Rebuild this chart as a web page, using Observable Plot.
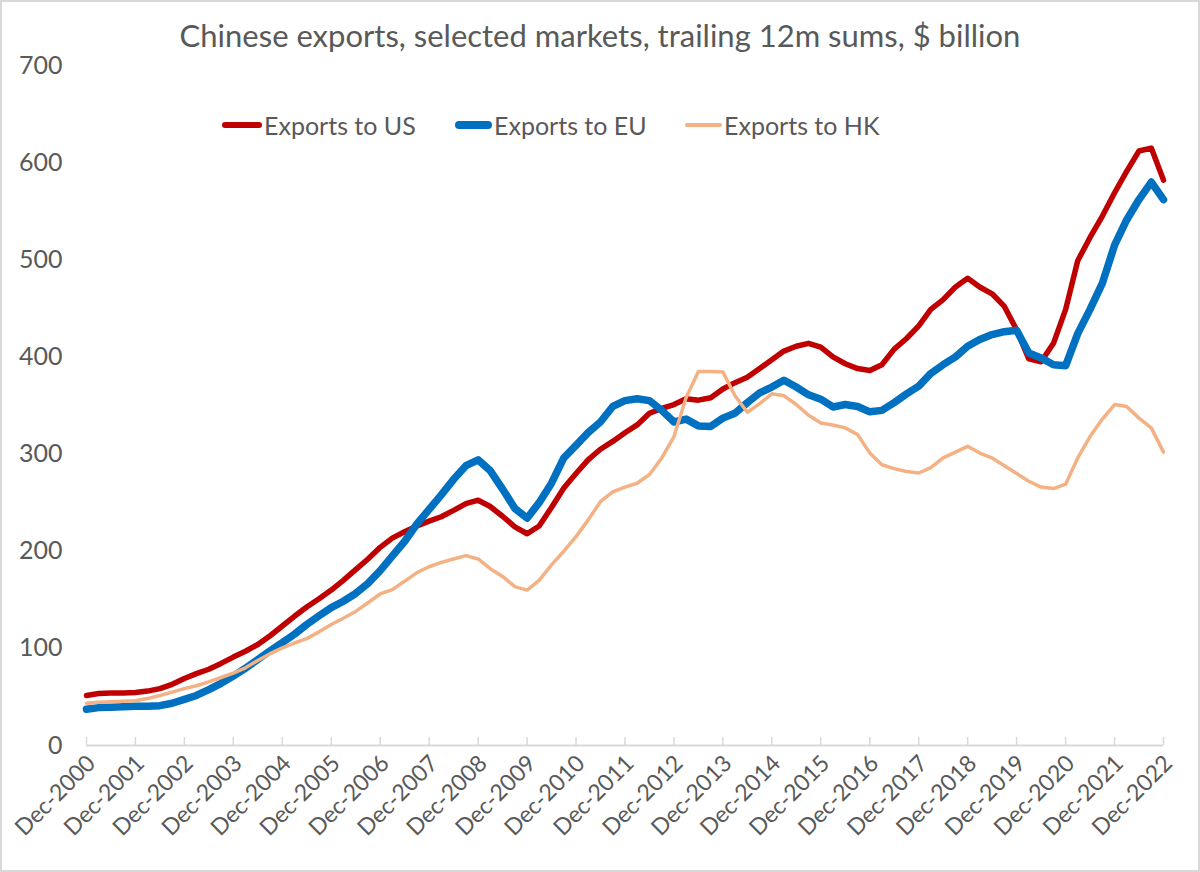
<!DOCTYPE html>
<html>
<head>
<meta charset="utf-8">
<script src="https://cdn.jsdelivr.net/npm/d3@7"></script>
<script src="https://cdn.jsdelivr.net/npm/@observablehq/plot@0.6"></script>
<style>
  html, body { margin: 0; padding: 0; background: #fff; }
  #chart { position: relative; width: 1200px; height: 872px; overflow: hidden;
           font-family: Lato, "Open Sans", sans-serif; color: #595959; }
  #chart svg { position: absolute; left: 0; top: 0; }
  #title { position: absolute; left: 0; top: 16px; width: 1200px; text-align: center;
           font-size: 31px; white-space: nowrap; }
  .item { position: absolute; top: 110px; height: 30px; font-size: 25px; line-height: 30px; white-space: nowrap; }
  .sw { position: absolute; top: 50%; border-radius: 4px; }
  #frame { position: absolute; left: 0; top: 0; width: 1200px; height: 872px; box-sizing: border-box;
           border: 2px solid #d9d9d9; pointer-events: none; }
</style>
</head>
<body>
<div id="chart">
  <div id="title">Chinese exports, selected markets, trailing 12m sums, $ billion</div>
  <div id="frame"></div>
</div>
<script>
// Trailing 12-month sums of Chinese exports, $ billion, quarterly readings Dec-2000 .. Dec-2022
const exportsUS = [51.5,53.5,54,54,54.5,56,58.5,63,69,74,
  78.5,84.5,91,97,104,113,123,133,142.5,151,
  160,170,181,192,204,213.5,220,226,231,235.5,
  242,249,252.5,246,236,225,218,226,245,265,
  280,294,305,313,322,330,342,347,351,357,
  355.5,358,367,373.5,379,388,397,406,411,414,
  410,400,393,388,386,392,408,419,432,449,
  459,472,481,472,465,452,428,398,395,414,
  449,499,523,545,569,591,612,615,582];

const exportsEU = [37.4,39,39.5,40,40.5,40.5,41,43.5,47.5,51.5,
  57.5,64,71.5,79.5,88.5,97.5,106,114.5,124.5,133.5,
  142,148.5,156.5,167,180,195,210,228,243,258,
  274,288,294,283,264,244,234,250,270,296,
  309,322,333,349,355,357,355,345,333,336,
  329,328.5,337,342,353,363,369,376,369,361,
  356.5,348.5,351,349,343.5,345,353,362,370,383,
  392,400,411,418,423,426,427.5,404,399,392,
  391,424,449,476,515,541,562,580,562];

const exportsHK = [43.6,44.5,45,45.5,46,48.3,51.5,55,58.5,61.5,
  65.5,70,74.5,80,87.5,94.5,100.5,105.5,110,117,
  124.5,131,138,147,156,160.5,169,178,184,188.5,
  192,195.5,192,182,174,163.5,160,170,186,200,
  215,232,251,261,266,270,279,296,318,358,
  385,385,384.5,360,343,352,362,360,351,340,
  332,330,327,320,301,289,285,282,280.5,286,
  296,302,308,301,296,288,280,272,266,264.5,
  269,296,318,336,351,349,337,327,302];

const seriesNames = ["Exports to US", "Exports to EU", "Exports to HK"];
const seriesColors = ["#c00000", "#0070c0", "#f4b183"];
const seriesWidths = [5.5, 7.5, 3.5];

const yTicks = [0, 100, 200, 300, 400, 500, 600, 700];
const tickYears = d3.range(2000, 2023);

// Quarter-end months starting Dec-2000
const dates = exportsUS.map((_, i) => new Date(Date.UTC(2000, 11 + 3 * i, 1)));
const tickDates = tickYears.map(y => new Date(Date.UTC(y, 11, 1)));

const rows = dates.map((date, i) => ({date, US: exportsUS[i], EU: exportsEU[i], HK: exportsHK[i]}));

const plot = Plot.plot({
  width: 1200,
  height: 872,
  marginLeft: 86,
  marginRight: 37,
  marginTop: 65,
  marginBottom: 127,
  style: {fontFamily: "Lato, 'Open Sans', sans-serif", fontSize: "25px", color: "#595959", background: "transparent", overflow: "visible"},
  x: {type: "utc", domain: [tickDates[0], tickDates[tickDates.length - 1]]},
  y: {domain: [0, 700]},
  marks: [
    Plot.ruleY([0], {stroke: "#d9d9d9", strokeWidth: 2}),
    Plot.axisY({ticks: yTicks, tickSize: 0, tickPadding: 24, label: null, fill: "#595959"}),
    Plot.axisX({ticks: tickDates, tickSize: 8, dy: -8, fill: "none", stroke: "#d9d9d9", strokeWidth: 1.5, label: null}),
    Plot.axisX({ticks: tickDates, tickSize: 0, tickRotate: -45, tickPadding: 6, dx: 5, dy: 8, label: null, fontSize: 23,
                fill: "#595959", tickFormat: d => "Dec-" + d.getUTCFullYear()}),
    Plot.lineY(rows, {x: "date", y: "US", stroke: seriesColors[0], strokeWidth: seriesWidths[0], strokeLinejoin: "round", strokeLinecap: "round"}),
    Plot.lineY(rows, {x: "date", y: "EU", stroke: seriesColors[1], strokeWidth: seriesWidths[1], strokeLinejoin: "round", strokeLinecap: "round"}),
    Plot.lineY(rows, {x: "date", y: "HK", stroke: seriesColors[2], strokeWidth: seriesWidths[2], strokeLinejoin: "round", strokeLinecap: "round"})
  ]
});

const chart = document.getElementById("chart");
chart.insertBefore(plot, chart.firstChild);

// Legend inside the plot area
const legendPos = [[222, 40], [455, 37], [685, 37]];
seriesNames.forEach((name, i) => {
  const item = document.createElement("div");
  item.className = "item";
  item.style.left = legendPos[i][0] + "px";
  item.style.paddingLeft = (legendPos[i][1] + 2) + "px";
  const sw = document.createElement("span");
  sw.className = "sw";
  sw.style.left = "0px";
  sw.style.width = legendPos[i][1] + "px";
  sw.style.height = seriesWidths[i] + "px";
  sw.style.marginTop = (-seriesWidths[i] / 2) + "px";
  sw.style.background = seriesColors[i];
  item.appendChild(sw);
  item.appendChild(document.createTextNode(name));
  chart.appendChild(item);
});
</script>
</body>
</html>
